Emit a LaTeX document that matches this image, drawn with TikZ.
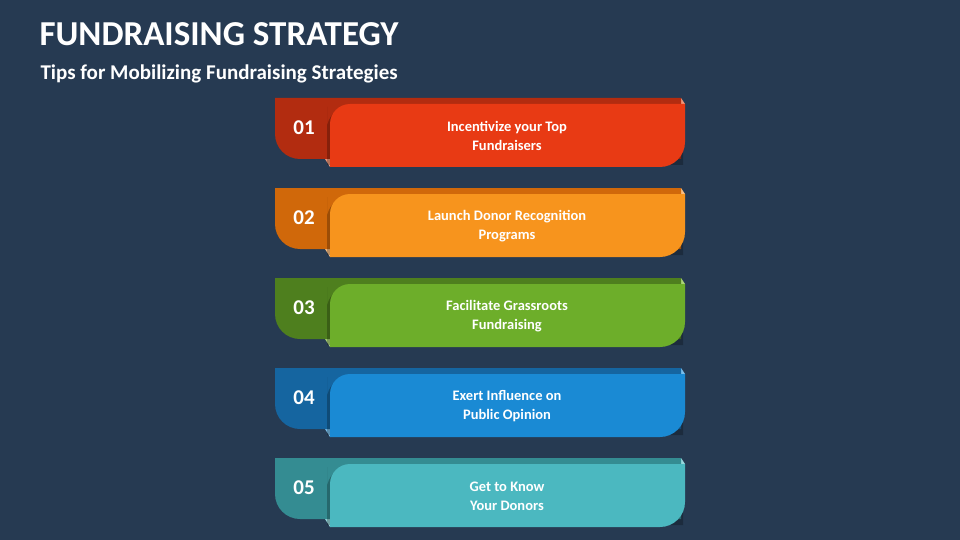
\documentclass[tikz,border=0pt]{standalone}
\usepackage{fontspec}
\setmainfont{Carlito}
\begin{document}
\begin{tikzpicture}[x=1pt,y=-1pt,
 numtxt/.style={text=white,font=\bfseries\fontsize{21}{21}\selectfont},
 bodytxt/.style={text=white,align=center,font=\bfseries\fontsize{14.5}{19}\selectfont}]
\fill[fill={rgb,255:red,38;green,58;blue,82}] (0,0) rectangle (960,540);
\path[use as bounding box] (0,0) rectangle (960,540);
\node[anchor=west,text=white,font=\bfseries\fontsize{35}{35}\selectfont] (title) at (36,34) {FUNDRAISING STRATEGY};
\node[anchor=west,text=white,font=\bfseries\fontsize{21}{21}\selectfont] (sub) at (37,74) {Tips for Mobilizing Fundraising Strategies};
\foreach \i/\dk/\fr/\lt/\num/\txt in {
 0/{178,44,16}/{232,58,20}/{240,150,120}/01/{Incentivize your Top\\Fundraisers},
 1/{208,104,10}/{247,148,29}/{250,190,130}/02/{Launch Donor Recognition\\Programs},
 2/{78,127,30}/{109,174,42}/{170,210,120}/03/{Facilitate Grassroots\\Fundraising},
 3/{21,101,160}/{26,138,212}/{120,190,235}/04/{Exert Influence on\\Public Opinion},
 4/{52,140,146}/{75,184,192}/{150,215,220}/05/{Get to Know\\Your Donors}}{
 \definecolor{dk}{RGB}{\dk}\definecolor{fr}{RGB}{\fr}\definecolor{lt}{RGB}{\lt}
 \begin{scope}[yshift={-\i*90pt}]
  \fill[lt] (681,98) -- (685,104) -- (681,104) -- cycle;
  \fill[lt] (325,159) -- (330,159) -- (330,167) -- cycle;
  \fill[dk] (275,98) -- (681,98) -- (681,159) -- (300,159) arc[start angle=90,end angle=180,radius=25] -- cycle;
  \fill[black,opacity=0.25] (327,107) -- (327,165) -- (683,165) -- (683,107) -- (349,107) arc[start angle=270,end angle=180,radius=22] -- cycle;
  \fill[fr] (330,167) -- (660,167) arc[start angle=90,end angle=0,radius=25] -- (685,104) -- (350,104) arc[start angle=270,end angle=180,radius=20] -- cycle;
  \node[numtxt] (n\i) at (304,128) {\num};
  \node[bodytxt] (t\i) at (507,136) {\txt};
 \end{scope}}
\end{tikzpicture}
\end{document}
